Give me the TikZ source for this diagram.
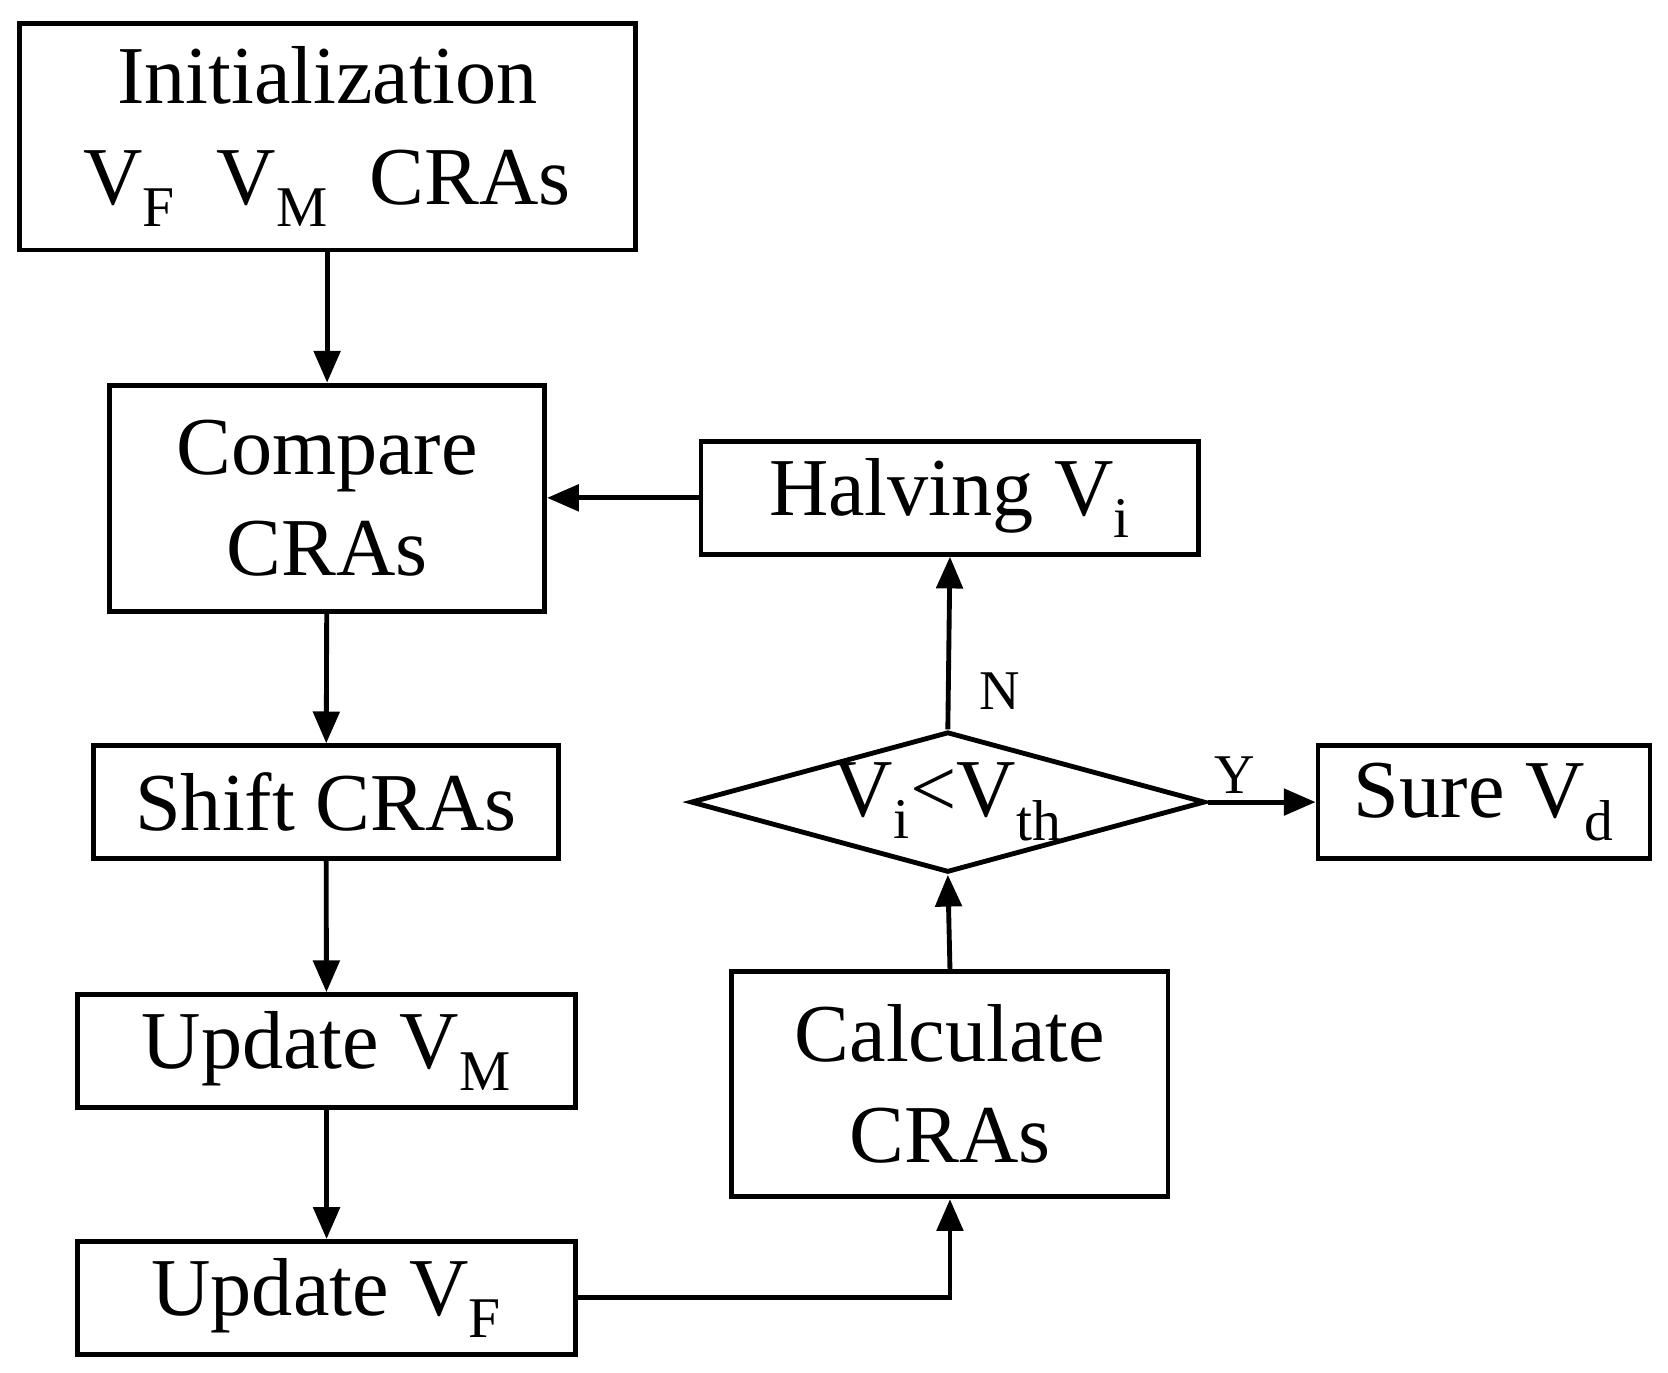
\documentclass[tikz,border=0pt]{standalone}
\usepackage{fontspec}
\setmainfont{Liberation Serif}
\usetikzlibrary{arrows.meta,shapes.geometric}
\begin{document}
\begin{tikzpicture}[x=0.02cm,y=-0.02cm,
  box/.style={draw,line width=2.6pt,inner sep=0pt,align=center,font=\fontsize{44}{54}\selectfont},
  arr/.style={line width=2.6pt,-{Triangle[length=17pt,width=14pt]}},
  lbl/.style={font=\fontsize{30}{34}\selectfont}]
\useasboundingbox (0,0) rectangle (1568,1290);
\node[box,minimum width=579*0.02cm,minimum height=213*0.02cm] (init) at (307.5,128.5) {Initialization\\V$_{\mathrm F}$\ \ V$_{\mathrm M}$\ \ CRAs};
\node[box,minimum width=409*0.02cm,minimum height=213*0.02cm] (cmp) at (307.5,468.5) {Compare\\CRAs};
\node[box,minimum width=468*0.02cm,minimum height=106*0.02cm] (half) at (893,468) {Halving V$_{\mathrm i}$};
\node[box,minimum width=437*0.02cm,minimum height=106*0.02cm] (shift) at (306.5,754) {Shift CRAs};
\node[box,minimum width=468*0.02cm,minimum height=106*0.02cm] (upm) at (307,988) {Update V$_{\mathrm M}$};
\node[box,minimum width=468*0.02cm,minimum height=106*0.02cm] (upf) at (307,1220) {Update V$_{\mathrm F}$};
\node[box,minimum width=410*0.02cm,minimum height=212*0.02cm] (calc) at (893,1019) {Calculate\\CRAs};
\node[box,diamond,aspect=3.66,minimum width=468*0.02cm,minimum height=128*0.02cm] (dia) at (891,754) {V$_{\mathrm i}$<V$_{\mathrm{th}}$};
\node[box,minimum width=312*0.02cm,minimum height=106*0.02cm] (sure) at (1395,754) {Sure V$_{\mathrm d}$};
\draw[arr] (init) -- (cmp);
\draw[arr] (cmp) -- (shift);
\draw[arr] (shift) -- (upm);
\draw[arr] (upm) -- (upf);
\draw[arr] (upf.east) -| (calc.south);
\draw[arr] (calc.north) -- (dia.south);
\draw[arr] (dia.north) -- node[lbl,right,pos=0.22,xshift=12pt]{N} (half.south);
\draw[arr] (half.west) -- (cmp.east|-half.west);
\draw[arr] (dia.east) -- node[lbl,above,pos=0.25]{Y} (sure.west);
\end{tikzpicture}
\end{document}
